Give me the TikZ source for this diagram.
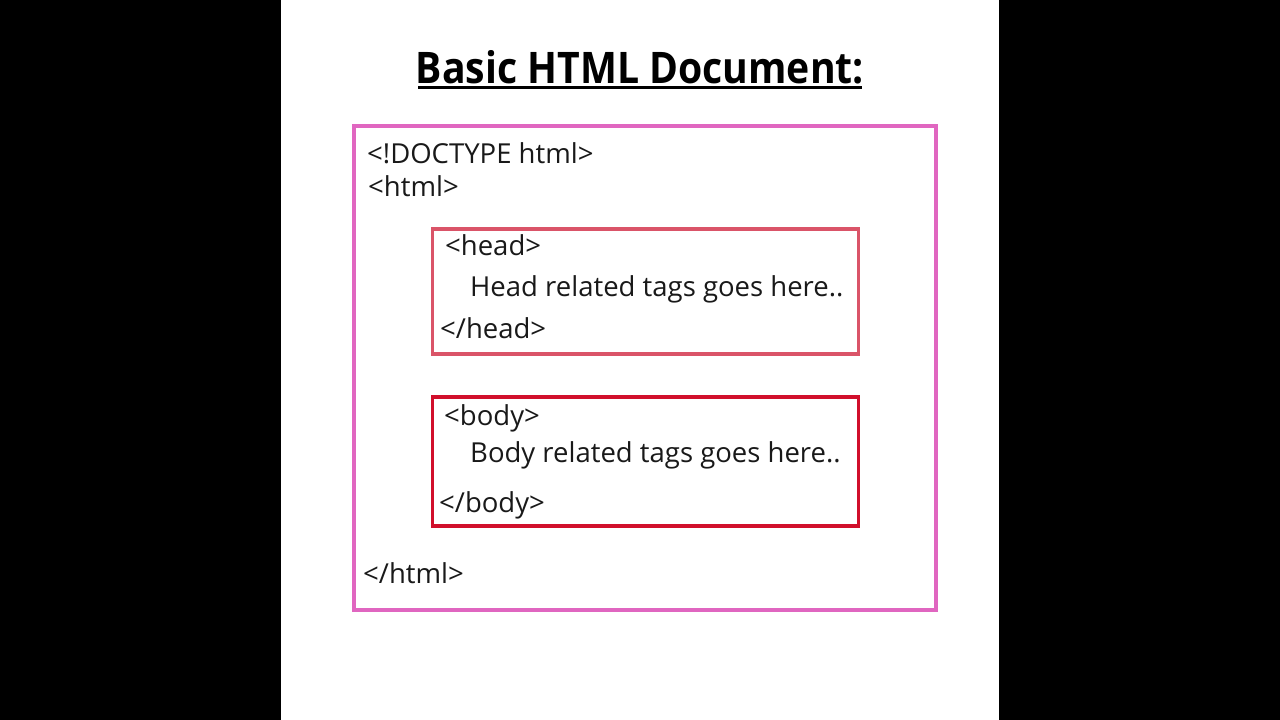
\documentclass[tikz,border=0pt]{standalone}
\usepackage{fontspec}
\setmainfont{Open Sans}
\newfontfamily\titlefont{Open Sans}[FakeStretch=0.9]
\definecolor{outerpink}{HTML}{E066C0}
\definecolor{headred}{HTML}{DA5468}
\definecolor{bodyred}{HTML}{D10F2B}
\begin{document}
\begin{tikzpicture}[x=1pt,y=-1pt,
  codetext/.style={anchor=west,inner sep=0pt,text height=0.72em,text depth=0pt,
    font=\fontsize{27.5}{30}\selectfont,text=black!90},
  boxline/.style={line width=3.5pt}]
\useasboundingbox (0,0) rectangle (1280,720);
\fill[black] (0,0) rectangle (1280,720);
\fill[white] (281,0) rectangle (999,720);
% title
\node[inner sep=0pt,anchor=base,font=\titlefont\bfseries\fontsize{43.5}{48}\selectfont] (title) at (640,83) {Basic HTML Document:};
\coordinate (ulL) at (418,87.5);
\coordinate (ulR) at (862,87.5);
\draw[line width=3pt] (ulL) -- (ulR);
% boxes
\node[boxline,draw=outerpink,anchor=north west,minimum width=582pt,minimum height=484pt,inner sep=0pt] (outer) at (352,124) {};
\node[boxline,draw=headred,anchor=north west,minimum width=426pt,minimum height=125pt,inner sep=0pt] (head) at (430.5,227) {};
\node[boxline,draw=bodyred,anchor=north west,minimum width=426pt,minimum height=129pt,inner sep=0pt] (body) at (430.5,395) {};
% texts
\node[codetext] (doctype) at (367,160) {<!DOCTYPE html>};
\node[codetext] (htmlo) at (368,193) {<html>};
\node[codetext] (heado) at (445,252) {<head>};
\node[codetext] (headt) at (470,293) {Head related tags goes here..};
\node[codetext] (headc) at (440,335) {</head>};
\node[codetext] (bodyo) at (444,422) {<body>};
\node[codetext] (bodyt) at (470,459) {Body related tags goes here..};
\node[codetext] (bodyc) at (439,509) {</body>};
\node[codetext] (htmlc) at (363,580) {</html>};
\end{tikzpicture}
\end{document}
